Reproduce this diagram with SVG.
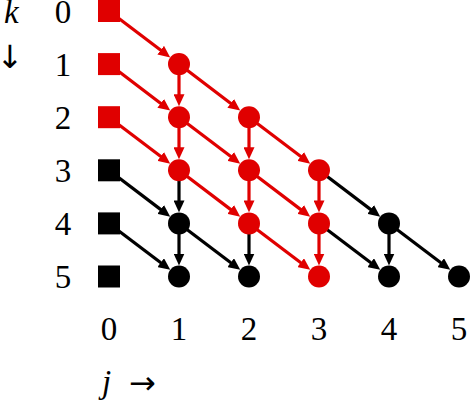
<svg xmlns="http://www.w3.org/2000/svg" width="472" height="403" viewBox="0 0 472 403">
<style>
.r{stroke:#e00000;stroke-width:3.2;fill:none;marker-end:url(#ar)}
.b{stroke:#000;stroke-width:3.2;fill:none;marker-end:url(#ab)}
.rn{fill:#e00000}
.bn{fill:#000}
.t{font-family:"Liberation Serif","Times New Roman",serif;font-size:33px;fill:#000}
.c{text-anchor:middle}
.a{font-family:"DejaVu Sans",sans-serif;font-size:32px;fill:#000}
</style>
<defs>
<marker id="ar" markerUnits="userSpaceOnUse" viewBox="0 0 12 11" markerWidth="12" markerHeight="11" refX="6" refY="5.5" orient="auto"><path d="M0,0 L12,5.5 L0,11 z" fill="#e00000"/></marker>
<marker id="ab" markerUnits="userSpaceOnUse" viewBox="0 0 12 11" markerWidth="12" markerHeight="11" refX="6" refY="5.5" orient="auto"><path d="M0,0 L12,5.5 L0,11 z" fill="#000"/></marker>
</defs>
<g id="connectors">
<path class="r" d="M109,11 L165.46,53.83"/>
<path class="r" d="M109,64.1 L165.46,106.93"/>
<path class="r" d="M109,117.2 L165.46,160.03"/>
<path class="b" d="M109,170.3 L165.46,213.13"/>
<path class="b" d="M109,223.4 L165.46,266.23"/>
<path class="r" d="M179,64.1 L235.46,106.93"/>
<path class="r" d="M179,117.2 L235.46,160.03"/>
<path class="r" d="M179,170.3 L235.46,213.13"/>
<path class="b" d="M179,223.4 L235.46,266.23"/>
<path class="r" d="M249,117.2 L305.46,160.03"/>
<path class="r" d="M249,170.3 L305.46,213.13"/>
<path class="r" d="M249,223.4 L305.46,266.23"/>
<path class="b" d="M319,170.3 L375.46,213.13"/>
<path class="b" d="M319,223.4 L375.46,266.23"/>
<path class="b" d="M389,223.4 L445.46,266.23"/>
<path class="r" d="M179,64.1 L179,100.2"/>
<path class="r" d="M179,117.2 L179,153.3"/>
<path class="b" d="M179,170.3 L179,206.4"/>
<path class="b" d="M179,223.4 L179,259.5"/>
<path class="r" d="M249,117.2 L249,153.3"/>
<path class="r" d="M249,170.3 L249,206.4"/>
<path class="b" d="M249,223.4 L249,259.5"/>
<path class="r" d="M319,170.3 L319,206.4"/>
<path class="r" d="M319,223.4 L319,259.5"/>
<path class="b" d="M389,223.4 L389,259.5"/>
</g>
<g id="s0"><rect class="rn" x="98" y="0" width="22" height="22"/></g>
<g id="s1"><rect class="rn" x="98" y="53.1" width="22" height="22"/></g>
<g id="s2"><rect class="rn" x="98" y="106.2" width="22" height="22"/></g>
<g id="s3"><rect class="bn" x="98" y="159.3" width="22" height="22"/></g>
<g id="s4"><rect class="bn" x="98" y="212.4" width="22" height="22"/></g>
<g id="s5"><rect class="bn" x="98" y="265.5" width="22" height="22"/></g>
<g id="n11"><circle class="rn" cx="179" cy="64.1" r="11"/></g>
<g id="n12"><circle class="rn" cx="179" cy="117.2" r="11"/></g>
<g id="n13"><circle class="rn" cx="179" cy="170.3" r="11"/></g>
<g id="n14"><circle class="bn" cx="179" cy="223.4" r="11"/></g>
<g id="n15"><circle class="bn" cx="179" cy="276.5" r="11"/></g>
<g id="n22"><circle class="rn" cx="249" cy="117.2" r="11"/></g>
<g id="n23"><circle class="rn" cx="249" cy="170.3" r="11"/></g>
<g id="n24"><circle class="rn" cx="249" cy="223.4" r="11"/></g>
<g id="n25"><circle class="bn" cx="249" cy="276.5" r="11"/></g>
<g id="n33"><circle class="rn" cx="319" cy="170.3" r="11"/></g>
<g id="n34"><circle class="rn" cx="319" cy="223.4" r="11"/></g>
<g id="n35"><circle class="rn" cx="319" cy="276.5" r="11"/></g>
<g id="n44"><circle class="bn" cx="389" cy="223.4" r="11"/></g>
<g id="n45"><circle class="bn" cx="389" cy="276.5" r="11"/></g>
<g id="n55"><circle class="bn" cx="459" cy="276.5" r="11"/></g>
<g id="labels">
<text class="t" x="4" y="23" font-style="italic">k</text>
<text class="a c" x="10" y="68">↓</text>
<text class="t c" x="63" y="23">0</text>
<text class="t c" x="63" y="75.5">1</text>
<text class="t c" x="63" y="128.5">2</text>
<text class="t c" x="63" y="181.5">3</text>
<text class="t c" x="63" y="234.5">4</text>
<text class="t c" x="63" y="287.5">5</text>
<text class="t c" x="109" y="340">0</text>
<text class="t c" x="179" y="340">1</text>
<text class="t c" x="249" y="340">2</text>
<text class="t c" x="319" y="340">3</text>
<text class="t c" x="389" y="340">4</text>
<text class="t c" x="459" y="340">5</text>
<text class="t" x="102" y="393" font-style="italic">j</text>
<text class="a" x="129" y="394">→</text>
</g>
</svg>
